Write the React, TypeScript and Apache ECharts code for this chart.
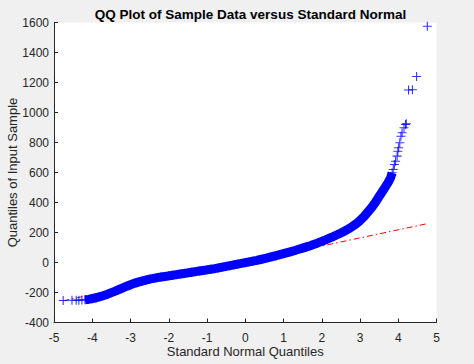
import React, { useEffect, useRef } from "react";
import * as echarts from "echarts";

// Theoretical standard normal quantiles (x) and sample quantiles (y)
const qx = [
  -4.76, -4.53, -4.42, -4.35, -4.27, -4.19, -4.1, -4.0, -3.9, -3.8, -3.7, -3.6, -3.5, -3.4, -3.3,
  -3.2, -3.1, -3.0, -2.9, -2.8, -2.7, -2.6, -2.5, -2.4, -2.3, -2.2, -2.1, -2.0, -1.9, -1.8,
  -1.7, -1.6, -1.5, -1.4, -1.3, -1.2, -1.1, -1.0, -0.9, -0.8, -0.7, -0.6, -0.5, -0.4, -0.3,
  -0.2, -0.1, 0, 0.1, 0.2, 0.3, 0.4, 0.5, 0.6, 0.7, 0.8, 0.9, 1.0, 1.1, 1.2,
  1.3, 1.4, 1.5, 1.6, 1.7, 1.8, 1.9, 2.0, 2.1, 2.2, 2.3, 2.4, 2.5, 2.6, 2.7,
  2.8, 2.9, 3.0, 3.1, 3.2, 3.3, 3.4, 3.5, 3.62, 3.73, 3.8, 3.84, 3.87, 3.9, 3.93,
  3.97, 3.99, 4.01, 4.04, 4.07, 4.1, 4.15, 4.19, 4.21, 4.27, 4.37, 4.48, 4.76,
];
const qy = [
  -253, -252, -252, -251, -250, -249, -246, -241, -235, -228, -220, -211, -201, -191, -180,
  -169, -158, -148, -139, -131, -124, -117, -111, -106, -101, -97, -93, -89, -85, -81,
  -77, -73, -69, -65, -61, -57, -53, -49, -45, -41, -36, -31, -26, -21, -16,
  -11, -6, -1, 4, 9, 14, 20, 26, 32, 39, 45, 52, 59, 66, 73,
  80, 88, 96, 104, 112, 121, 131, 141, 151, 162, 173, 185, 197, 210, 224,
  240, 258, 280, 305, 335, 365, 400, 440, 487, 531, 565, 598, 620, 653, 675,
  709, 742, 765, 798, 842, 865, 898, 920, 925, 1150, 1152, 1240, 1575,
];
// Reference line (through the quartiles, extended over the data range)
const refX = [-4.76, 4.76];
const refY = [-255, 259];

const xTicks = [-5, -4, -3, -2, -1, 0, 1, 2, 3, 4, 5];
const yTicks = [-400, -200, 0, 200, 400, 600, 800, 1000, 1200, 1400, 1600];

const FONT = "'Liberation Sans', Arial, Helvetica, sans-serif";
const AXIS = "#262626";

export default function App() {
  const ref = useRef<HTMLDivElement>(null);
  useEffect(() => {
    document.body.style.margin = "0";
    if (!ref.current) return;
    const chart = echarts.init(ref.current, undefined, { renderer: "svg" });
    const pts = qx.map((x, i) => [x, qy[i]]);
    const band = pts.filter((p) => p[0] >= -4.19 && p[0] <= 3.84);
    const plus =
      "path://M-0.12,-1 L0.12,-1 L0.12,-0.12 L1,-0.12 L1,0.12 L0.12,0.12 L0.12,1 L-0.12,1 L-0.12,0.12 L-1,0.12 L-1,-0.12 L-0.12,-0.12 Z";
    chart.setOption({
      animation: false,
      backgroundColor: "#f0f0f0",
      title: {
        text: "QQ Plot of Sample Data versus Standard Normal",
        left: 245.5,
        textAlign: "center",
        top: 2,
        textStyle: { fontFamily: FONT, fontSize: 13.5, fontWeight: "bold", color: "#000" },
      },
      grid: {
        left: 54,
        top: 22.5,
        width: 382.5,
        height: 300,
        containLabel: false,
        outerBoundsMode: "none",
        show: true,
        backgroundColor: "#ffffff",
        borderWidth: 0,
      },
      xAxis: {
        type: "value",
        min: -5,
        max: 5,
        interval: 1,
        name: "Standard Normal Quantiles",
        nameLocation: "middle",
        nameGap: 22,
        nameMoveOverlap: false,
        nameTextStyle: { fontFamily: FONT, fontSize: 13, color: AXIS },
        axisLine: { show: true, onZero: false, lineStyle: { color: AXIS, width: 1 } },
        axisTick: { show: true, inside: true, length: 4, lineStyle: { color: AXIS } },
        axisLabel: {
          fontFamily: FONT,
          fontSize: 12,
          color: AXIS,
          margin: 9,
          formatter: (v: number) => (xTicks.includes(v) ? String(v) : ""),
        },
        splitLine: { show: false },
      },
      yAxis: {
        type: "value",
        min: -400,
        max: 1600,
        interval: 200,
        name: "Quantiles of Input Sample",
        nameLocation: "middle",
        nameGap: 35,
        nameMoveOverlap: false,
        nameTextStyle: { fontFamily: FONT, fontSize: 13, color: AXIS },
        axisLine: { show: true, onZero: false, lineStyle: { color: AXIS, width: 1 } },
        axisTick: { show: true, inside: true, length: 4, lineStyle: { color: AXIS } },
        axisLabel: {
          fontFamily: FONT,
          fontSize: 12,
          color: AXIS,
          margin: 5,
          formatter: (v: number) => (yTicks.includes(v) ? String(v) : ""),
        },
        splitLine: { show: false },
      },
      series: [
        {
          type: "line",
          data: refX.map((x, i) => [x, refY[i]]),
          showSymbol: false,
          silent: true,
          lineStyle: { color: "#ff0000", width: 1, type: [6, 3, 1.5, 3] },
          z: 1,
        },
        {
          type: "line",
          data: band,
          showSymbol: false,
          silent: true,
          smooth: false,
          lineStyle: { color: "#0000ff", width: 9, cap: "butt", join: "round" },
          z: 2,
        },
        {
          type: "scatter",
          data: pts,
          symbol: plus,
          symbolSize: 9,
          itemStyle: { color: "#0000ff" },
          z: 3,
        },
      ],
    });
    return () => chart.dispose();
  }, []);
  return <div ref={ref} style={{ width: 474, height: 364 }} />;
}
